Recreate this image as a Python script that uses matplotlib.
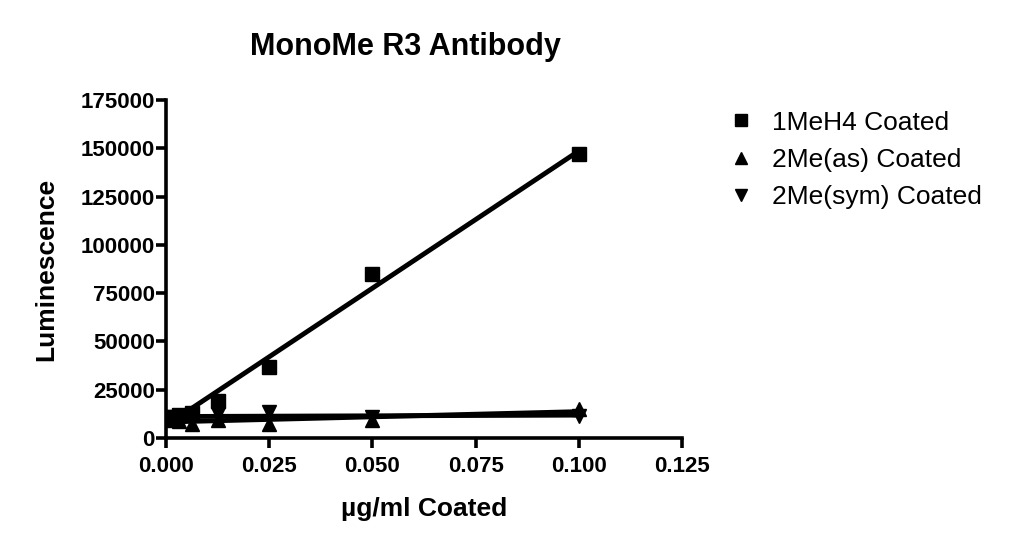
import matplotlib
matplotlib.use('Agg')
import matplotlib.pyplot as plt
import numpy as np

plt.rcParams['font.family'] = ['Liberation Sans', 'DejaVu Sans']

# concentrations (ug/ml)
conc = [0.0, 0.0015625, 0.003125, 0.00625, 0.0125, 0.025, 0.05, 0.1]

# luminescence readings per coating
meh4 = [10500, 11000, 12000, 13000, 19000, 36700, 85000, 147000]
me2_as = [10000, 9500, 9000, 7500, 9300, 7200, 9500, 15000]
me2_sym = [11000, 10500, 10000, 10500, 12500, 13400, 11000, 11500]

series = [('1MeH4 Coated', meh4, 's', 10),
          ('2Me(as) Coated', me2_as, '^', 10),
          ('2Me(sym) Coated', me2_sym, 'v', 10)]

fig = plt.figure(figsize=(10.21, 5.48), dpi=100)
ax = fig.add_axes([0.1626, 0.2007, 0.5054, 0.6168])

x = np.array(conc)
for name, vals, mk, ms in series:
    ax.plot(x, vals, linestyle='none', marker=mk, markersize=ms,
            color='black', label=name, zorder=3)
    slope, icpt = np.polyfit(x, vals, 1)
    xs = np.array([x.min(), x.max()])
    ax.plot(xs, icpt + slope * xs, color='black', linewidth=3.5, zorder=2)

ax.set_xlim(0, 0.125)
ax.set_ylim(0, 175000)
ax.set_xticks([0, 0.025, 0.05, 0.075, 0.1, 0.125])
ax.set_xticklabels(['0.000', '0.025', '0.050', '0.075', '0.100', '0.125'])
ax.set_yticks(range(0, 175001, 25000))
ax.set_yticklabels([str(v) for v in range(0, 175001, 25000)])

for s in ['top', 'right']:
    ax.spines[s].set_visible(False)
for s in ['left', 'bottom']:
    ax.spines[s].set_linewidth(2.6)
ax.tick_params(width=2.6, length=7, labelsize=16)
ax.tick_params(axis='x', pad=6)
ax.tick_params(axis='y', pad=1)
for lbl in ax.get_xticklabels() + ax.get_yticklabels():
    lbl.set_fontweight('bold')

fig.text(405 / 1021, 1 - 47 / 548, 'MonoMe R3 Antibody', fontsize=22,
         fontweight='bold', ha='center', va='center')
ax.set_xlabel('\u00b5g/ml Coated', fontsize=19, fontweight='bold', labelpad=14)
ax.set_ylabel('Luminescence', fontsize=19, fontweight='bold', labelpad=16)

ax.legend(loc='upper left', bbox_to_anchor=(1.065, 1.0), frameon=False,
          fontsize=19, handletextpad=0.65, labelspacing=0.5, markerscale=0.9,
          handlelength=1.1, borderaxespad=0)

fig.savefig('out.png', dpi=100)
